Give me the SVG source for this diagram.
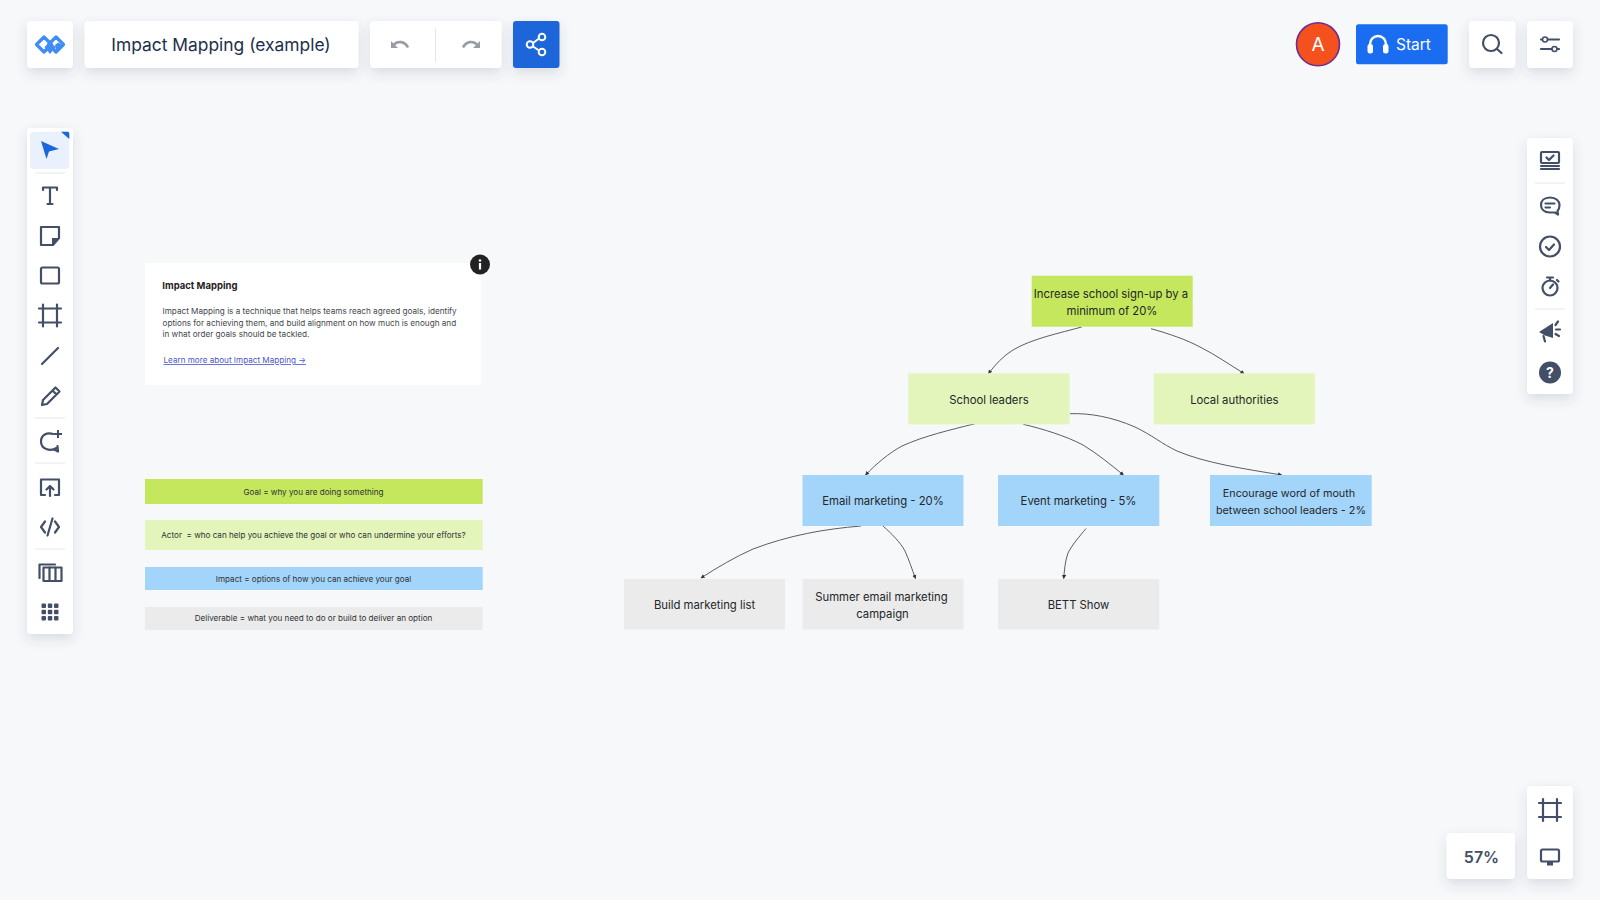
<svg xmlns="http://www.w3.org/2000/svg" width="1600" height="900" viewBox="0 0 1600 900">
<style>
text{font-family:Inter,"Liberation Sans",sans-serif}
.n{font-size:11.300px;fill:#23262a;text-anchor:middle}
.l{font-size:8.100px;fill:#2e3236;text-anchor:middle}
.b{font-size:8.160px;fill:#44474c}
.panel{fill:#fff;filter:url(#sh)}
.ic{fill:none;stroke:#434f66;stroke-width:2.2;stroke-linecap:round;stroke-linejoin:round}
.if{fill:#434f66}
.sep{stroke:#e4e7ec;stroke-width:1}
.g{fill:#c5e75d}.a{fill:#e4f5bb}.i{fill:#a3d5fb}.d{fill:#ebebeb}
.c{fill:none;stroke:#5a5e63;stroke-width:1}
.ur{fill:none;stroke:#979ca6;stroke-width:2.600}
</style>
<defs>
<filter id="sh" x="-40%" y="-40%" width="180%" height="200%"><feDropShadow dx="0" dy="5" stdDeviation="6" flood-color="#3a4660" flood-opacity="0.16"/></filter>
<marker id="ah" markerWidth="5" markerHeight="5" refX="3.6" refY="2.5" orient="auto" markerUnits="userSpaceOnUse"><path d="M0 0.4L4 2.5L0 4.6Z" fill="#333"/></marker>
<g id="frameIcon"><path class="ic" d="M-7-11V11M7-11V11M-11-7H11M-11 7H11"/></g>
</defs>
<rect width="1600" height="900" fill="#f7f8fa"/>

<g id="topbar-left">
<rect class="panel" x="27" y="21" width="46" height="47" rx="4"/>
<path d="M44 37L36.500 44.500L44 52L51.500 44.500Z M56 37L48.500 44.500L56 52L63.500 44.500Z" fill="none" stroke="#3f8cf5" stroke-width="3.200" stroke-linejoin="round"/>
<path d="M44.500 47L50 41.500L55.500 47L50 54Z M55 45L58 42.500L62 45L56 51Z" fill="#3f8cf5"/>
<rect class="panel" x="84.500" y="21" width="274" height="47" rx="4"/>
<text x="221" y="51" font-size="17.400" fill="#222f4b" text-anchor="middle">Impact Mapping (example)</text>
<rect class="panel" x="370" y="21" width="131.500" height="47" rx="4"/>
<line class="sep" x1="435.500" y1="28" x2="435.500" y2="62"/>
<path class="ur" d="M408 47.500C405 41.500 398 40 393.500 45"/><path d="M391 41V48H398Z" fill="#979ca6"/>
<path class="ur" d="M463 47.500C466 41.500 473 40 477.500 45"/><path d="M480 41V48H473Z" fill="#979ca6"/>
<rect x="513" y="21" width="46.500" height="47" rx="3" fill="#1b66da" filter="url(#sh)"/>
<g fill="none" stroke="#fff" stroke-width="2"><circle cx="530" cy="44.500" r="3.300"/><circle cx="542" cy="37" r="3.300"/><circle cx="542" cy="52" r="3.300"/><path d="M533 43L539 38.500M533 46.500L539 50.500"/></g>
</g>

<g id="topbar-right">
<circle cx="1318" cy="44.300" r="21.500" fill="#f4511e" stroke="#6f2c91" stroke-width="1.600"/>
<text x="1318" y="51" font-size="19" fill="#fff" text-anchor="middle">A</text>
<rect x="1356" y="24.300" width="91.700" height="40" rx="2.500" fill="#1a6cf0"/>
<path d="M1370 52V44a8 8 0 0 1 16 0v8" fill="none" stroke="#fff" stroke-width="2.400"/>
<rect x="1367.500" y="44" width="5.500" height="9.500" rx="2.500" fill="#fff"/><rect x="1383" y="44" width="5.500" height="9.500" rx="2.500" fill="#fff"/>
<text x="1396" y="50" font-size="15.500" fill="#fff">Start</text>
<rect class="panel" x="1469" y="21" width="46.500" height="47" rx="4"/>
<circle class="ic" cx="1491" cy="43" r="8"/><path class="ic" d="M1497 49L1501.500 53"/>
<rect class="panel" x="1527" y="21" width="46" height="47" rx="4"/>
<path class="ic" d="M1541 39.500H1559M1541 49H1559" stroke-width="2"/>
<circle cx="1545" cy="39.500" r="2.500" fill="#fff" stroke="#434f66" stroke-width="1.600"/><circle cx="1554.500" cy="49" r="2.500" fill="#fff" stroke="#434f66" stroke-width="1.600"/>
</g>

<g id="toolbar-left">
<rect class="panel" x="27" y="128" width="46" height="506" rx="4"/>
<rect x="30" y="131.700" width="39.300" height="37.300" rx="4" fill="#eaf1fd"/>
<path d="M61 131.700H67.500Q69.300 131.700 69.300 133.500V139Z" fill="#1b66da"/>
<path d="M41 141L59 149L49 151.500L46.500 159Z" fill="#1b66da"/>
<path class="sep" d="M35 173H65M35 418H65M35 463H65M35 549H65"/>
<path class="ic" d="M43 190V187.500H57V190M50 187.500V204M47.500 204H52.500"/>
<path class="ic" d="M41 227H59V238L53 245H41Z"/><path class="if" d="M59 238H52V245Z"/>
<rect class="ic" x="41" y="267.500" width="18" height="16" rx="1.500"/>
<use href="#frameIcon" x="50" y="315.500"/>
<path class="ic" d="M42 364L58 348"/>
<path class="ic" d="M43 400L55.500 387.500L59.500 391.500L47 404L42 405ZM52.500 390.500L56.500 394.500"/>
<path class="ic" d="M56.500 448C50 452 41 449 41 441.500C41 435 47 432 53 434M54 449.500L58 451.500L57.500 446"/><path class="if" d="M57 433V430H59V433H62V435H59V438H57V435H54V433Z"/>
<path class="ic" d="M45 495H41V479.500H59V495H55M50 496V486M46.500 489.500L50 486L53.500 489.500"/>
<path class="ic" d="M45 521.500L41 527L45 532.500M55 521.500L59 527L55 532.500M52.500 518.500L47.500 535.500"/>
<path class="ic" d="M39.500 578V564.500H55"/><rect class="ic" x="43.500" y="567.500" width="18" height="13.500"/><path class="ic" d="M49.500 567.500V581M55.500 567.500V581"/>
<g class="if"><rect x="41.500" y="603.500" width="4.500" height="4.500" rx="1"/><rect x="47.800" y="603.500" width="4.500" height="4.500" rx="1"/><rect x="54" y="603.500" width="4.500" height="4.500" rx="1"/><rect x="41.500" y="609.800" width="4.500" height="4.500" rx="1"/><rect x="47.800" y="609.800" width="4.500" height="4.500" rx="1"/><rect x="54" y="609.800" width="4.500" height="4.500" rx="1"/><rect x="41.500" y="616" width="4.500" height="4.500" rx="1"/><rect x="47.800" y="616" width="4.500" height="4.500" rx="1"/><rect x="54" y="616" width="4.500" height="4.500" rx="1"/></g>
</g>

<g id="toolbar-right">
<rect class="panel" x="1527" y="138" width="46" height="256" rx="4"/>
<path class="sep" d="M1535 183H1565M1535 309H1565"/>
<rect class="ic" x="1541" y="152" width="18" height="11" rx="1"/><path class="ic" d="M1546.500 157.500L1549 160L1553.500 155.500M1541 166H1559M1541 169H1559"/>
<path class="ic" d="M1550 197.500C1544 197.500 1541 201 1541 205S1544 212.500 1550 212.500H1555L1558 214.500L1557.500 211C1559 209.500 1559.500 207 1559.500 205C1559.500 201 1556 197.500 1550 197.500ZM1545.500 203.500H1554.500M1545.500 207.500H1550"/>
<circle class="ic" cx="1550" cy="246.500" r="10"/><path class="ic" d="M1546 247L1549 250L1554 244.500"/>
<circle class="ic" cx="1550" cy="288" r="7.500"/><path class="ic" d="M1547 277.500H1553M1550 278V280.500M1550 288L1553 284.500M1557 280L1558.500 281.500"/>
<path class="if" d="M1539 332L1553 323V338L1545 335.500Z"/><path class="ic" d="M1543.500 336L1545 341.500M1555.500 325L1558 321.500M1556 329.500H1560M1555.500 334L1559 336"/>
<circle class="if" cx="1550" cy="372.500" r="11"/>
<text x="1550" y="377.500" font-size="14" font-weight="700" fill="#fff" text-anchor="middle">?</text>
</g>

<g id="toolbar-bottom">
<rect class="panel" x="1527" y="786" width="46" height="93" rx="4"/>
<use href="#frameIcon" x="1550" y="810"/>
<rect class="ic" x="1541" y="849.500" width="18" height="12" rx="1.500"/><path class="if" d="M1547 862H1553V865.500H1547Z"/>
<rect class="panel" x="1446.700" y="833" width="68.300" height="46" rx="4"/>
<text x="1481.500" y="863" font-size="16" font-weight="600" fill="#434f66" text-anchor="middle">57%</text>
</g>

<g id="info-card">
<rect x="145" y="263" width="335.700" height="122" fill="#fff"/>
<text x="162.300" y="289" font-size="9.500" font-weight="700" fill="#1f2124">Impact Mapping</text>
<text class="b" x="162.500" y="314">Impact Mapping is a technique that helps teams reach agreed goals, identify</text>
<text class="b" x="162.500" y="325.500">options for achieving them, and build alignment on how much is enough and</text>
<text class="b" x="162.500" y="337">in what order goals should be tackled.</text>
<text x="163.500" y="363" font-size="8.130" fill="#4b55c8" text-decoration="underline">Learn more about Impact Mapping →</text>
<circle cx="480" cy="264.500" r="10" fill="#222"/>
<circle cx="480" cy="260.500" r="1.300" fill="#fff"/><rect x="478.900" y="263" width="2.200" height="6.500" fill="#fff"/>
</g>

<g id="legend">
<g id="legend-goal"><rect class="g" x="145" y="479" width="337.700" height="25"/><text class="l" x="313.500" y="494.500">Goal = why you are doing something</text></g>
<g id="legend-actor"><rect class="a" x="145" y="520" width="337.700" height="30"/><text class="l" x="313.500" y="538" xml:space="preserve">Actor  = who can help you achieve the goal or who can undermine your efforts?</text></g>
<g id="legend-impact"><rect class="i" x="145" y="567" width="337.700" height="23"/><text class="l" x="313.500" y="581.500">Impact = options of how you can achieve your goal</text></g>
<g id="legend-deliverable"><rect class="d" x="145" y="607" width="337.700" height="23"/><text class="l" x="313.500" y="621">Deliverable = what you need to do or build to deliver an option</text></g>
</g>

<g id="connectors">
<path class="c" marker-end="url(#ah)" d="M1081.700 327C1060 333 1031 339 1013 350C1003 356 995 365 988.500 373.500"/>
<path class="c" marker-end="url(#ah)" d="M1151 328.700C1170 334 1187 340 1200 347C1216 355 1230 365 1244 373.500"/>
<path class="c" marker-end="url(#ah)" d="M975 423.700C950 430 924 436 902 446C889 453 876 464 865.500 475"/>
<path class="c" marker-end="url(#ah)" d="M1023.300 424.300C1043 429 1066 436 1083 445C1098 454 1111 465 1123.500 475"/>
<path class="c" marker-end="url(#ah)" d="M1070 413.700C1090 413 1112 417 1135 427C1152 435 1162 444 1177 451C1205 463 1245 469 1281.700 475"/>
<path class="c" marker-end="url(#ah)" d="M861 526C825 529 790 535 753 549C735 557 718 567 701 578"/>
<path class="c" marker-end="url(#ah)" d="M883 526C892 534 900 542 905 551C909 560 912 569 915.500 578.500"/>
<path class="c" marker-end="url(#ah)" d="M1086 528.500C1079 537 1072 545 1068 553C1065 561 1064.500 570 1063.700 578.500"/>
</g>

<g id="node-goal"><rect class="g" x="1031.700" y="275.700" width="161" height="51"/><text class="n" x="1111" y="297.500">Increase school sign-up by a</text><text class="n" x="1112" y="314.700">minimum of 20%</text></g>
<g id="node-school-leaders"><rect class="a" x="908.300" y="373.300" width="161.400" height="51"/><text class="n" x="989" y="403.500">School leaders</text></g>
<g id="node-local-authorities"><rect class="a" x="1153.700" y="373.300" width="161.300" height="51"/><text class="n" x="1234.300" y="403.500">Local authorities</text></g>
<g id="node-email"><rect class="i" x="802.500" y="475" width="161" height="51"/><text class="n" x="883" y="505.300">Email marketing - 20%</text></g>
<g id="node-event"><rect class="i" x="998" y="475" width="161.300" height="51"/><text class="n" x="1078.500" y="505.300">Event marketing - 5%</text></g>
<g id="node-word-of-mouth"><rect class="i" x="1210" y="475" width="161.700" height="51"/><text class="n" x="1289" y="497" font-size="10.800" style="font-size:10.800px">Encourage word of mouth</text><text class="n" x="1291" y="513.500" style="font-size:10.800px">between school leaders - 2%</text></g>
<g id="node-build-list"><rect class="d" x="624" y="579" width="161" height="50.500"/><text class="n" x="704.500" y="608.500">Build marketing list</text></g>
<g id="node-summer"><rect class="d" x="802.500" y="579" width="161" height="50.500"/><text class="n" x="881.500" y="600.500">Summer email marketing</text><text class="n" x="882.500" y="617.500">campaign</text></g>
<g id="node-bett"><rect class="d" x="998" y="579" width="161.300" height="50.500"/><text class="n" x="1078.500" y="608.500">BETT Show</text></g>
</svg>
